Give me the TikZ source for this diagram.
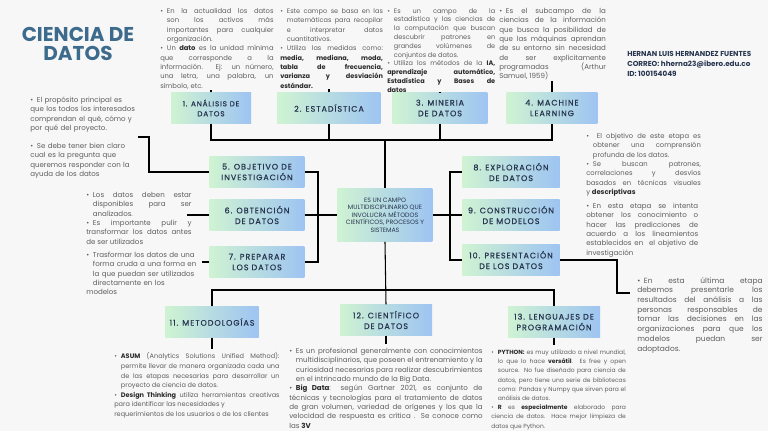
\documentclass[tikz,border=0pt]{standalone}
\usepackage{fontspec}
\setmainfont{Poppins}
\newfontfamily\boxfont[LetterSpace=12, FakeBold=0.6]{Poppins}
\usetikzlibrary{positioning}
\definecolor{bgcol}{HTML}{F7F7F7}
\definecolor{boxgreen}{HTML}{CFF3D2}
\definecolor{boxblue}{HTML}{9EC4F2}
\definecolor{navy}{HTML}{27354F}
\definecolor{titleblue}{HTML}{3D6B8D}
\definecolor{notegray}{HTML}{5E5E5E}
\definecolor{notedark}{HTML}{2B2B2B}
\newcommand{\itm}{\par\noindent\hangindent=5pt\hangafter=1\makebox[5pt][l]{\textbullet}}
\newcommand{\bw}[1]{{\bfseries\color{notedark}#1}}
\newcommand{\lb}{\linebreak}
\hyphenpenalty=10000
\exhyphenpenalty=10000
\tolerance=9999
\emergencystretch=4pt

\begin{document}
\begin{tikzpicture}[
  x=0.75pt, y=-0.75pt,
  stage/.style={left color=boxgreen, right color=boxblue, text=navy, align=center,
    font=\boxfont\fontsize{6}{8}\selectfont, minimum width=71pt, minimum height=23pt, inner sep=1pt},
  note/.style={anchor=north west, inner sep=0pt, text=notegray, align=justify,
    font=\fontsize{5.3}{7}\selectfont},
  link/.style={draw=black, line width=0.8pt}
]
\fill[bgcol] (0,0) rectangle (768,431);
\useasboundingbox (0,0) rectangle (768,431);

\node[font=\bfseries\fontsize{15}{14.5}\selectfont, text=titleblue, align=center] (title) at (78,44) {CIENCIA DE\\DATOS};
\node[anchor=north west, inner sep=0pt, font=\bfseries\fontsize{5.4}{7.5}\selectfont, text=navy, align=left] (autor) at (627,51)
  {HERNAN LUIS HERNANDEZ FUENTES\\CORREO: hherna23@ibero.edu.co\\ID: 100154049};

\node[stage, minimum width=60pt, font=\boxfont\fontsize{5.4}{7.5}\selectfont] (b1) at (211,108) {1. ANÁLISIS DE\\DATOS};
\node[stage, minimum width=77pt] (b2) at (329,108) {2. ESTADÍSTICA};
\node[stage] (b3) at (440,108) {3. MINERIA\\DE DATOS};
\node[stage, minimum width=68pt] (b4) at (552,108) {4. MACHINE\\LEARNING};
\node[stage] (b5) at (257,172) {5. OBJETIVO DE\\INVESTIGACIÓN};
\node[stage] (b6) at (257,215) {6. OBTENCIÓN\\DE DATOS};
\node[stage] (b7) at (257,262) {7. PREPARAR\\LOS DATOS};
\node[stage, minimum width=73pt] (b8) at (511,172) {8. EXPLORACIÓN\\DE DATOS};
\node[stage, minimum width=73pt] (b9) at (511,215) {9. CONSTRUCCIÓN\\DE MODELOS};
\node[stage, minimum width=73pt] (b10) at (511,260) {10. PRESENTACIÓN\\DE LOS DATOS};
\node[stage, minimum height=40pt, font=\fontsize{4.7}{5.6}\selectfont] (ctr) at (385,215)
  {ES UN CAMPO\\MULTIDISCIPLINARIO QUE\\INVOLUCRA MÉTODOS\\CIENTÍFICOS, PROCESOS Y\\SISTEMAS};
\node[stage, minimum width=70pt] (b11) at (212,322) {11. METODOLOGÍAS};
\node[stage, minimum width=69pt] (b12) at (386,320) {12. CIENTÍFICO\\DE DATOS};
\node[stage, minimum width=69pt] (b13) at (554,322) {13. LENGUAJES DE\\PROGRAMACIÓN};

\node[note, text width=85pt, font=\fontsize{5.1}{7}\selectfont] (nA) at (160,4) {%
  \itm En la actualidad los datos\lb son los activos más\lb importantes para cualquier\lb organización.
  \itm Un \bw{dato} es la unidad mínima\lb que corresponde a la\lb información. Ej: un número,\lb una letra, una palabra, un\lb símbolo, etc.};
\node[note, text width=77pt, font=\fontsize{4.9}{7}\selectfont] (nB) at (280,4) {%
  \itm Este campo se basa en las\lb matemáticas para recopilar\lb e interpretar datos\lb cuantitativos.
  \itm Utiliza las medidas como:\lb \bw{media, mediana, moda,\lb tabla de frecuencia,\lb varianza y desviación\lb estándar.}};
\node[note, text width=81pt, font=\fontsize{4.9}{6.6}\selectfont] (nC) at (387,4) {%
  \itm Es un campo de la\lb estadística y las ciencias de\lb la computación que buscan\lb descubrir patrones en\lb grandes volúmenes de\lb conjuntos de datos.
  \itm Utiliza los métodos de la \bw{IA,\lb aprendizaje automático,\lb Estadística y Bases de\lb datos}};
\node[note, text width=80pt] (nD) at (499,4) {%
  \itm Es el subcampo de la\lb ciencias de la información\lb que busca la posibilidad de\lb que las máquinas aprendan\lb de su entorno sin necesidad\lb de ser explícitamente\lb programadas (Arthur\lb Samuel, 1959)};

\node[note, text width=79pt, align=left] (nE) at (30,93) {%
  \itm El propósito principal es que los todos los interesados comprendan el qué,\ cómo y por qué del proyecto.};
\node[note, text width=79pt, align=left] (nF) at (30,139) {%
  \itm Se debe tener bien claro cual es la pregunta que queremos responder con la ayuda de los datos};
\node[note, text width=79pt] (nG) at (86,188) {%
  \itm Los datos deben estar disponibles para ser analizados.
  \itm Es importante pulir y transformar los datos antes de ser utilizados};
\node[note, text width=84pt, align=left] (nH) at (86,248) {%
  \itm Trasformar los datos de una forma cruda a una forma en la que puedan ser utilizados directamente en los\\modelos};

\node[note, text width=86pt, font=\fontsize{5.1}{7}\selectfont] (nI) at (586,129) {%
  \itm\ El objetivo de este etapa es\lb obtener una comprensión\lb profunda de los datos.
  \itm Se buscan patrones,\lb correlaciones y desvíos\lb basados en técnicas visuales\lb y \bw{descriptivas}};
\node[note, text width=84pt] (nJ) at (586,199) {%
  \itm En esta etapa se intenta obtener los conocimiento o hacer las predicciones de acuerdo a los lineamientos establecidos en\ \ el objetivo de investigación};
\node[note, text width=94pt, font=\fontsize{5.6}{7.3}\selectfont] (nK) at (637,273) {%
  \itm En esta última etapa\lb debemos presentarle los\lb resultados del análisis a las\lb personas responsables de\lb tomar las decisiones en las\lb organizaciones para que los\lb modelos puedan ser\lb adoptados.};

\node[note, text width=124pt, font=\fontsize{4.9}{7.2}\selectfont] (nL) at (114,349) {%
  \itm \bw{ASUM} (Analytics Solutions Unified Method):\lb permite llevar de manera organizada cada una de las etapas necesarias para desarrollar un proyecto de ciencia de datos.
  \itm \bw{Design Thinking} utiliza herramientas creativas para identificar las necesidades y\newline requerimientos de los usuarios o de los clientes};
\node[note, text width=145pt] (nM) at (289,344) {%
  \itm Es un profesional generalmente con conocimientos multidisciplinarios, que poseen el entrenamiento y la curiosidad necesarias para realizar descubrimientos en el intrincado mundo de la Big Data.
  \itm \bw{Big Data}: según Gartner 2021, es conjunto de\lb técnicas y tecnologías para el tratamiento de datos de gran volumen, variedad de orígenes y los que la velocidad de respuesta es crítica . Se conoce como\lb las \bw{3V}};
\node[note, text width=101pt, font=\fontsize{4.5}{6.9}\selectfont] (nN) at (491,345) {%
  \itm \bw{PYTHON:} es muy utilizado a nivel mundial, lo que lo hace \bw{versátil}. Es free y open source. No fue diseñado para ciencia de datos, pero tiene una serie de bibliotecas como: Pandas y Numpy que sirven para el análisis de datos.
  \itm \bw{R} es \bw{especialmente} elaborado para ciencia de datos. Hace mejor limpieza de datos que Python.};

\coordinate (tb) at (385,140);
\coordinate (bb) at (385,290);
\coordinate (lb) at (318,215);
\coordinate (rb) at (450,215);
\coordinate (e5) at (149,137);
\coordinate (e5a) at (138,137);
\coordinate (e6) at (187,215);
\coordinate (e7) at (202,262);
\coordinate (e10) at (617,260);
\coordinate (e10a) at (630,293);

\draw[link] (b1.south) |- (tb) -| (b4.south);
\draw[link] (b2.south) -- (b2.south |- tb);
\draw[link] (b3.south) -- (b3.south |- tb);
\draw[link] (tb) -- (ctr.north);
\draw[link] (b11.north) |- (bb) -| (b13.north);
\draw[link] (ctr.south) -- (b12.north);
\draw[link] (b5.east) -| (lb) |- (b7.east);
\draw[link] (b6.east) -- (ctr.west);
\draw[link] (b8.west) -| (rb) |- (b10.west);
\draw[link] (b9.west) -- (ctr.east);
\draw[link] (b1.north) -- (b1.north |- nA.south);
\draw[link] (b2.north) -- (b2.north |- nB.south);
\draw[link] (b3.north) -- (b3.north |- nC.south);
\draw[link] (b4.north) -- (b4.north |- nD.south);
\draw[link] (b5.west) -| (e5) -- (e5a);
\draw[link] (b6.west) -- (e6);
\draw[link] (b7.west) -- (e7);
\draw[link] (b10.east) -- (e10) |- (e10a);
\draw[link] (b11.south) -- (b11.south |- nL.north);
\draw[link] (b12.south) -- (b12.south |- nM.north);
\draw[link] (b13.south) -- (b13.south |- nN.north);
\end{tikzpicture}
\end{document}
